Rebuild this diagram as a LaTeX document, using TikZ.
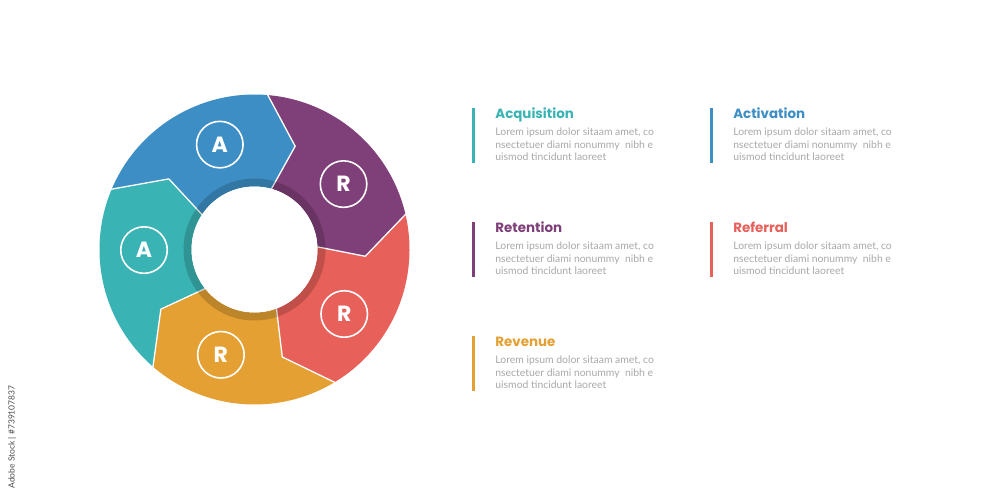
\documentclass[tikz,border=0pt]{standalone}
\usepackage{fontspec}
\setmainfont{Lato}
\newfontfamily\headfont{Poppins}
\definecolor{cteal}{HTML}{3AB3B4}
\definecolor{cblue}{HTML}{3D8EC5}
\definecolor{cpurple}{HTML}{7F3F78}
\definecolor{cred}{HTML}{E8605A}
\definecolor{corange}{HTML}{E4A033}
\definecolor{bodygray}{HTML}{A9A9A9}
\newcommand\infoblock[5]{% #1 name, #2 bar x, #3 top y (pixels from top), #4 colour, #5 title
  \fill[#4] (#2,{499-#3}) rectangle ({#2+3.5},{499-#3-54.5});
  \node[headtext, text=#4] (#1-title) at ({#2+23.5},{499-#3-10}) {#5};
  \node[bodytext] (#1-l1) at ({#2+23.5},{499-#3-27.4}) {Lorem ipsum dolor sitaam amet, co};
  \node[bodytext] (#1-l2) at ({#2+23.5},{499-#3-39.9}) {nsectetuer diami nonummy~ nibh e};
  \node[bodytext] (#1-l3) at ({#2+23.5},{499-#3-52.4}) {uismod tincidunt laoreet};
}
\begin{document}
\begin{tikzpicture}[x=1pt,y=1pt,
  headtext/.style={anchor=base west, inner sep=0pt, font=\headfont\bfseries\fontsize{13.4}{16}\selectfont},
  bodytext/.style={anchor=base west, inner sep=0pt, text=bodygray, font=\fontsize{10.4}{12}\selectfont},
  lettercirc/.style={circle, draw=white, line width=1.6pt, minimum size=46.5pt, inner sep=0pt,
    text=white, font=\headfont\bfseries\fontsize{22}{22}\selectfont},
  segline/.style={draw=white, line width=1.3pt, line join=round}]
\useasboundingbox (0,0) rectangle (1000,499);
\fill[white] (0,0) rectangle (1000,499);
\begin{scope}[shift={(254.5,249.5)}]
  \foreach \k/\col in {0/cblue,1/cpurple,2/cred,3/corange,4/cteal}{
    \pgfmathsetmacro\sI{146.4-72*\k}
    \pgfmathsetmacro\sT{140.5-72*\k}
    \pgfmathsetmacro\sO{157.2-72*\k}
    \pgfmathsetmacro\eO{85.2-72*\k}
    \pgfmathsetmacro\eT{68.5-72*\k}
    \pgfmathsetmacro\eI{74.4-72*\k}
    \fill[\col] (\sI:63) -- (\sT:111) -- (\sO:155) arc[start angle=\sO, end angle=\eO, radius=155]
      -- (\eT:111) -- (\eI:63) arc[start angle=\eI, end angle=\sI, radius=63] -- cycle;
  }
  \foreach \k in {0,...,4}{
    \pgfmathsetmacro\eO{85.2-72*\k}
    \pgfmathsetmacro\eT{68.5-72*\k}
    \pgfmathsetmacro\eI{74.4-72*\k}
    \draw[segline] (\eI:63) -- (\eT:111) -- (\eO:155.5);
  }
  \fill[black, fill opacity=0.17, even odd rule] (0,0) circle[radius=71] (0,0) circle[radius=63];
  \fill[white] (0,0) circle[radius=63];
  \foreach \k/\ltr in {0/A,1/R,2/R,3/R,4/A}{
    \node[lettercirc] (letter-\k) at ({108.3-72*\k}:110.5) {\ltr};
  }
\end{scope}
\infoblock{acq}{471.7}{108.3}{cteal}{Acquisition}
\infoblock{act}{709.6}{108.3}{cblue}{Activation}
\infoblock{ret}{471.7}{222.3}{cpurple}{Retention}
\infoblock{ref}{709.6}{222.3}{cred}{Referral}
\infoblock{rev}{471.7}{336.3}{corange}{Revenue}
\node[rotate=90, inner sep=0pt, text=black!70, font=\fontsize{8.5}{9}\selectfont] (stock) at (12,62) {Adobe Stock | \#739107837};
\end{tikzpicture}
\end{document}
